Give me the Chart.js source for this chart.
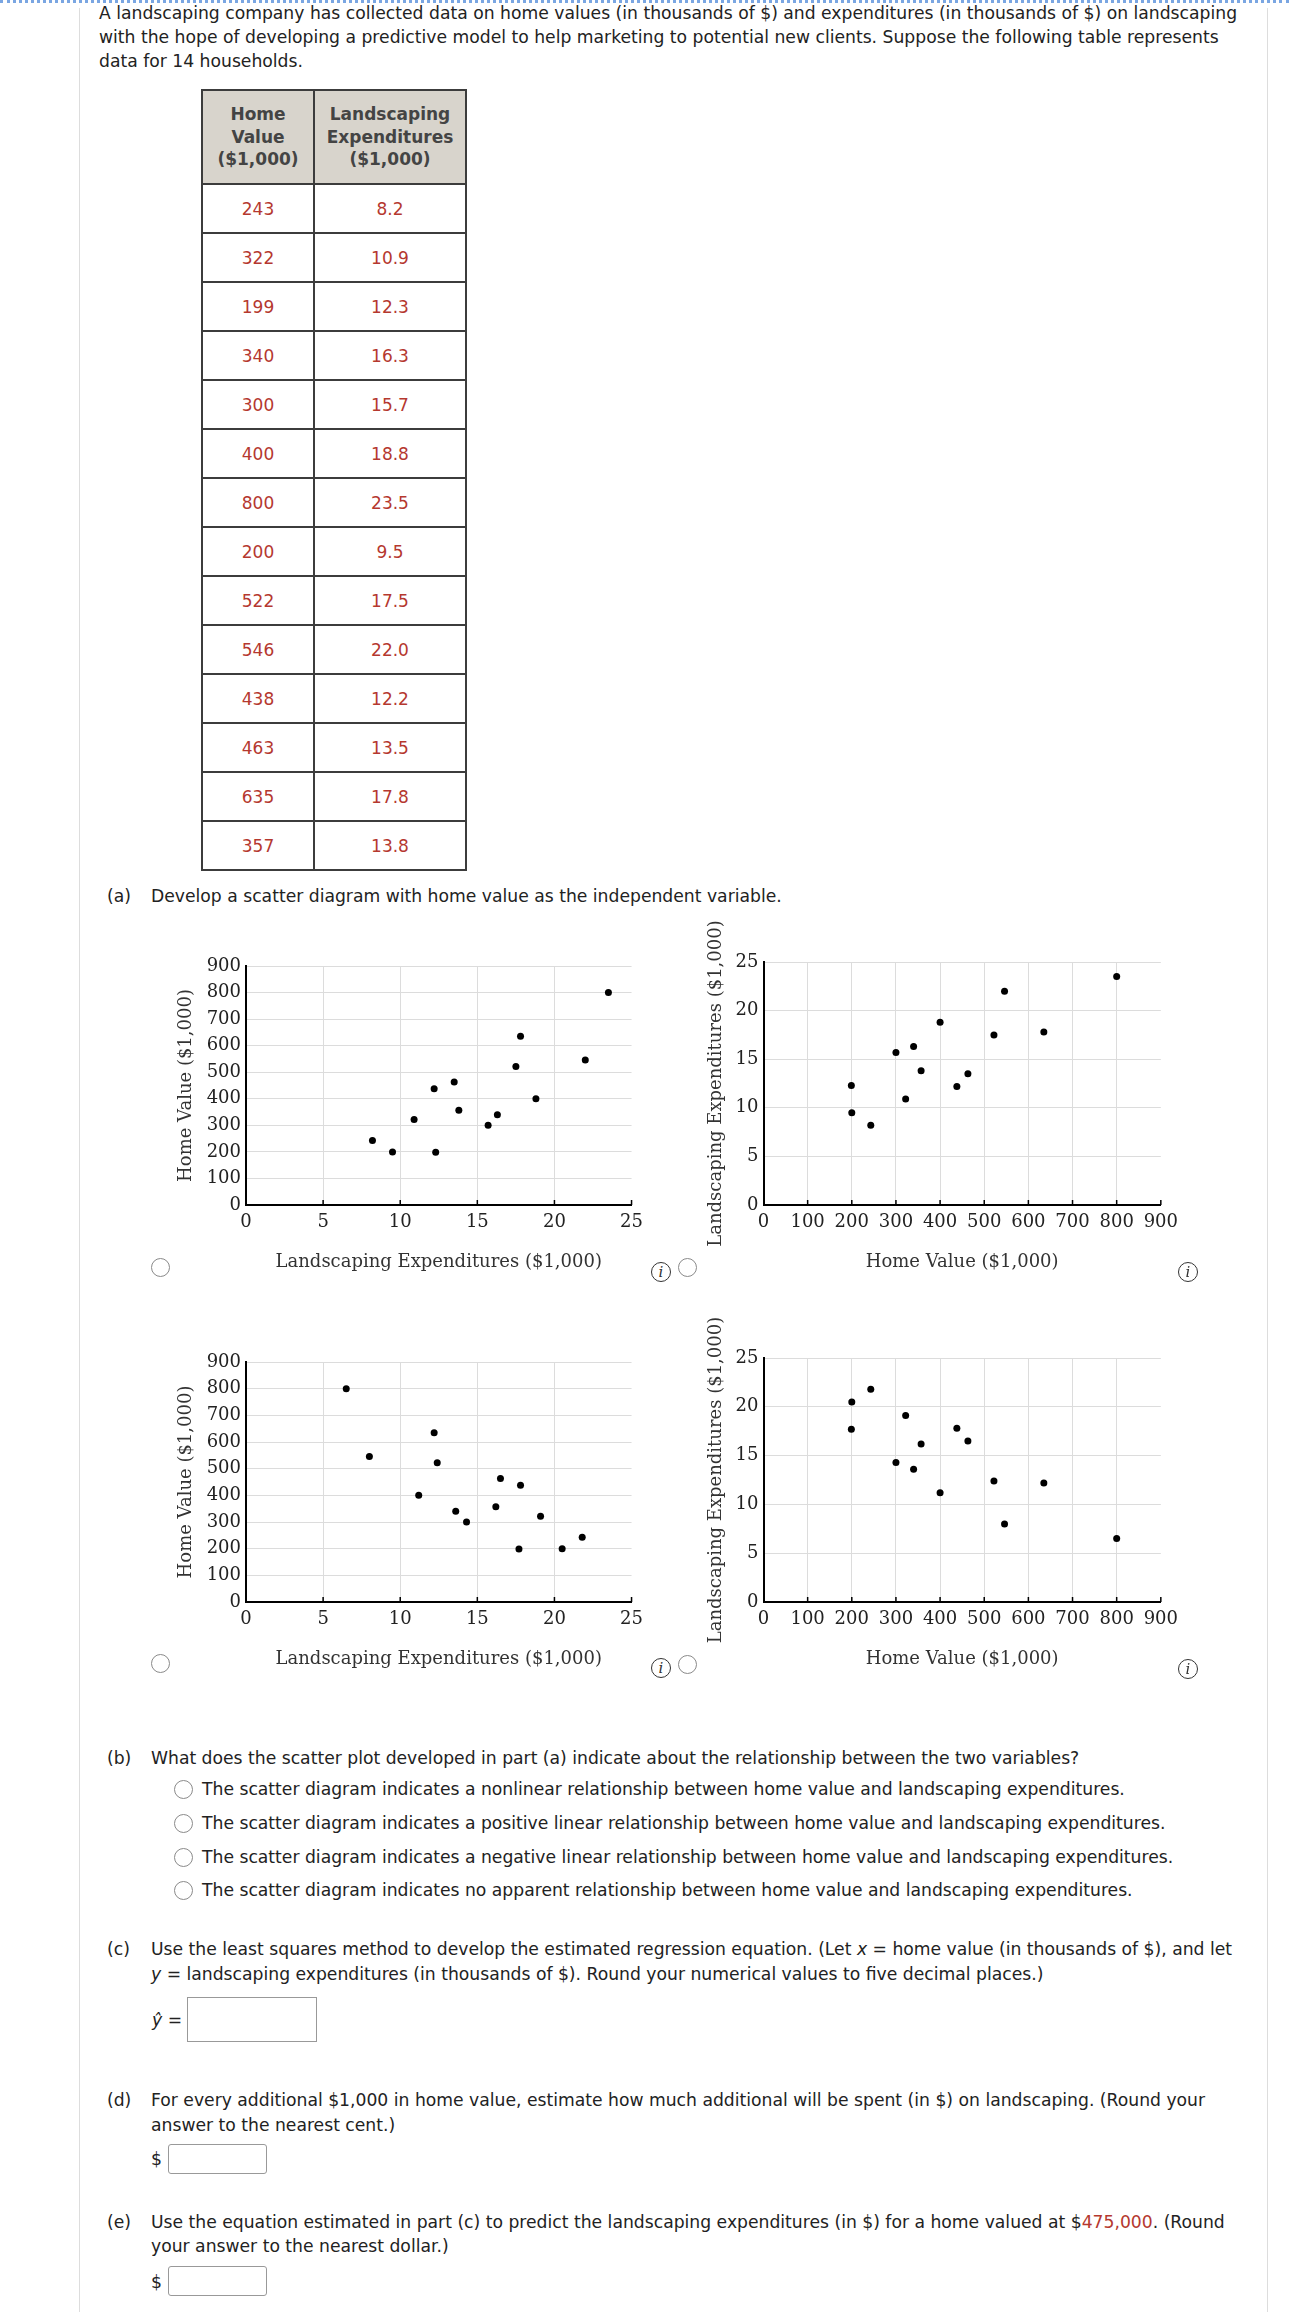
<!DOCTYPE html>
<html>
<head>
<meta charset="utf-8">
<script src="https://cdn.jsdelivr.net/npm/chart.js@4"></script>
<style>
  body { margin: 0; background: #fff; font-family: "DejaVu Sans", Verdana, sans-serif; color: #222; }
  #page { position: relative; width: 1289px; height: 2312px; overflow: hidden; }
  .abs { position: absolute; white-space: nowrap; }
  .txt { font-size: 17.2px; line-height: 24px; }
  .rule { position: absolute; top: 8px; bottom: 0; width: 1px; background: #ddd; }
  .dots { position: absolute; left: 0; top: 0; width: 1289px; border-top: 3px dotted #7aa6e2; }
  table.data { position: absolute; left: 201px; top: 89px; border-collapse: collapse; }
  table.data th, table.data td { border: 2px solid #3c3c3c; text-align: center; padding: 0; font-size: 17px; }
  table.data th { background: #d8d4cc; color: #444; font-weight: bold; line-height: 22.5px; }
  table.data tr.head { height: 94px; }
  table.data tr.row { height: 49px; }
  table.data td { color: #b5382f; }
  .radio { position: absolute; width: 17px; height: 17px; border: 1.5px solid #8a8a8a; border-radius: 50%; background: #fff; }
  .info { position: absolute; width: 18px; height: 18px; border: 1.5px solid #333; border-radius: 50%;
          font: italic 15px "DejaVu Serif", serif; text-align: center; line-height: 18px; color: #333; }
  .box { position: absolute; border: 1.5px solid #999; background: #fff; }
  .chartbox { position: absolute; }
  .red { color: #b5382f; }
</style>
</head>
<body>
<div id="page">
  <div class="dots"></div>
  <div class="rule" style="left:79px"></div>
  <div class="rule" style="left:1267px"></div>

  <div class="abs txt" style="left:99px; top:1px">A landscaping company has collected data on home values (in thousands of $) and expenditures (in thousands of $) on landscaping</div>
  <div class="abs txt" style="left:99px; top:25px">with the hope of developing a predictive model to help marketing to potential new clients. Suppose the following table represents</div>
  <div class="abs txt" style="left:99px; top:49px">data for 14 households.</div>

  <table class="data" id="dataTable">
    <tr class="head"><th style="width:110px">Home<br>Value<br>($1,000)</th><th style="width:150px">Landscaping<br>Expenditures<br>($1,000)</th></tr>
  </table>

  <div class="abs txt" style="left:107px; top:884px">(a)</div>
  <div class="abs txt" style="left:151px; top:884px">Develop a scatter diagram with home value as the independent variable.</div>

  <div class="chartbox" id="box1"><canvas id="chart1"></canvas></div>
  <div class="chartbox" id="box2"><canvas id="chart2"></canvas></div>
  <div class="chartbox" id="box3"><canvas id="chart3"></canvas></div>
  <div class="chartbox" id="box4"><canvas id="chart4"></canvas></div>

  <div class="radio" style="left:151px; top:1258px"></div>
  <div class="info" style="left:651px; top:1262px">i</div>
  <div class="radio" style="left:678px; top:1258px"></div>
  <div class="info" style="left:1178px; top:1262px">i</div>
  <div class="radio" style="left:151px; top:1654px"></div>
  <div class="info" style="left:651px; top:1658px">i</div>
  <div class="radio" style="left:678px; top:1655px"></div>
  <div class="info" style="left:1178px; top:1659px">i</div>

  <div class="abs txt" style="left:107px; top:1746px">(b)</div>
  <div class="abs txt" style="left:151px; top:1746px">What does the scatter plot developed in part (a) indicate about the relationship between the two variables?</div>
  <div class="radio" style="left:174px; top:1780px"></div>
  <div class="abs txt" style="left:202px; top:1777px">The scatter diagram indicates a nonlinear relationship between home value and landscaping expenditures.</div>
  <div class="radio" style="left:174px; top:1814px"></div>
  <div class="abs txt" style="left:202px; top:1811px">The scatter diagram indicates a positive linear relationship between home value and landscaping expenditures.</div>
  <div class="radio" style="left:174px; top:1848px"></div>
  <div class="abs txt" style="left:202px; top:1845px">The scatter diagram indicates a negative linear relationship between home value and landscaping expenditures.</div>
  <div class="radio" style="left:174px; top:1881px"></div>
  <div class="abs txt" style="left:202px; top:1878px">The scatter diagram indicates no apparent relationship between home value and landscaping expenditures.</div>

  <div class="abs txt" style="left:107px; top:1937px">(c)</div>
  <div class="abs txt" style="left:151px; top:1937px">Use the least squares method to develop the estimated regression equation. (Let <i>x</i> = home value (in thousands of $), and let</div>
  <div class="abs txt" style="left:151px; top:1962px"><i>y</i> = landscaping expenditures (in thousands of $). Round your numerical values to five decimal places.)</div>
  <div class="abs txt" style="left:152px; top:2008px"><i>ŷ</i> =</div>
  <div class="box" style="left:187px; top:1997px; width:128px; height:43px"></div>

  <div class="abs txt" style="left:107px; top:2088px">(d)</div>
  <div class="abs txt" style="left:151px; top:2088px">For every additional $1,000 in home value, estimate how much additional will be spent (in $) on landscaping. (Round your</div>
  <div class="abs txt" style="left:151px; top:2113px">answer to the nearest cent.)</div>
  <div class="abs txt" style="left:151px; top:2147px">$</div>
  <div class="box" style="left:168px; top:2144px; width:97px; height:28px; border-radius:3px"></div>

  <div class="abs txt" style="left:107px; top:2210px">(e)</div>
  <div class="abs txt" style="left:151px; top:2210px">Use the equation estimated in part (c) to predict the landscaping expenditures (in $) for a home valued at $<span class="red">475,000</span>. (Round</div>
  <div class="abs txt" style="left:151px; top:2234px">your answer to the nearest dollar.)</div>
  <div class="abs txt" style="left:151px; top:2270px">$</div>
  <div class="box" style="left:168px; top:2266px; width:97px; height:28px; border-radius:3px"></div>
</div>

<script>
// table data (home value, landscaping expenditures, both $1,000)
const homeValues = [243, 322, 199, 340, 300, 400, 800, 200, 522, 546, 438, 463, 635, 357];
const landscapingExp = [8.2, 10.9, 12.3, 16.3, 15.7, 18.8, 23.5, 9.5, 17.5, 22.0, 12.2, 13.5, 17.8, 13.8];
// expenditures shown in the two lower (wrong) answer choices
const wrongExp = [21.8, 19.1, 17.7, 13.6, 14.3, 11.2, 6.5, 20.5, 12.4, 8.0, 17.8, 16.5, 12.2, 16.2];

const homeTicks = [0, 100, 200, 300, 400, 500, 600, 700, 800, 900];
const expTicks = [0, 5, 10, 15, 20, 25];

const homeTitle = 'Home Value ($1,000)';
const expTitle = 'Landscaping Expenditures ($1,000)';

var table = document.getElementById('dataTable');
homeValues.forEach(function (h, i) {
  var tr = document.createElement('tr');
  tr.className = 'row';
  tr.innerHTML = '<td>' + h + '</td><td>' + landscapingExp[i].toFixed(1) + '</td>';
  table.appendChild(tr);
});

var serif = { family: '"DejaVu Serif", serif', size: 18 };

// short tick marks inside the plot on the x axis
var innerTicks = {
  id: 'innerTicks',
  afterDraw: function (chart) {
    var x = chart.scales.x;
    var ctx = chart.ctx;
    ctx.save();
    ctx.strokeStyle = '#000';
    ctx.lineWidth = 1.5;
    ctx.beginPath();
    x.ticks.forEach(function (t, i) {
      if (i === 0) return;
      var px = x.getPixelForTick(i);
      ctx.moveTo(px, x.top);
      ctx.lineTo(px, x.top - 5);
    });
    ctx.stroke();
    ctx.restore();
  }
};

// y title drawn without chart.js squeezing it to the axis height
var yTitle = {
  id: 'yTitle',
  afterDraw: function (chart, args, opts) {
    var y = chart.scales.y;
    var ctx = chart.ctx;
    ctx.save();
    ctx.translate(y.left + 14.5, (y.top + y.bottom) / 2);
    ctx.rotate(-Math.PI / 2);
    ctx.fillStyle = '#333';
    ctx.font = serif.size + 'px ' + serif.family;
    ctx.textAlign = 'center';
    ctx.textBaseline = 'middle';
    ctx.fillText(opts.text, 0, 0);
    ctx.restore();
  }
};

function axis(ticks, title, isX, fitSize) {
  var last = ticks.length - 1;
  return {
    type: 'linear',
    min: ticks[0],
    max: ticks[last],
    ticks: { stepSize: ticks[1] - ticks[0], padding: isX ? 7 : 5, color: '#222', font: serif, maxRotation: 0, autoSkip: false },
    grid: {
      drawTicks: false,
      lineWidth: 1,
      color: function (c) { return (isX && c.index === last) ? 'rgba(0,0,0,0)' : '#dcdcdc'; }
    },
    border: { color: '#000', width: 2 },
    title: { display: isX, text: title, color: '#333', font: serif, padding: { top: 4, bottom: 4 } },
    afterFit: function (s) {
      if (isX) s.height = fitSize; else s.width = fitSize;
    }
  };
}

function makeChart(id, boxId, xs, ys, xTicks, yTicks, xTitle, yTitleText, pos) {
  var box = document.getElementById(boxId);
  box.style.left = pos.left + 'px';
  box.style.top = pos.top + 'px';
  box.style.width = pos.width + 'px';
  box.style.height = pos.height + 'px';
  var pts = xs.map(function (x, i) { return { x: x, y: ys[i] }; });
  return new Chart(document.getElementById(id), {
    type: 'scatter',
    data: { datasets: [{ data: pts, backgroundColor: '#000', borderWidth: 0, pointRadius: 3.5 }] },
    options: {
      responsive: true,
      maintainAspectRatio: false,
      animation: false,
      layout: { padding: { top: pos.padTop, right: pos.padRight, bottom: 3, left: 0 } },
      plugins: { legend: { display: false }, tooltip: { enabled: false }, yTitle: { text: yTitleText } },
      scales: {
        x: axis(xTicks, xTitle, true, 72),
        y: axis(yTicks, yTitleText, false, pos.yWidth)
      }
    },
    plugins: [innerTicks, yTitle]
  });
}

makeChart('chart1', 'box1', landscapingExp, homeValues, expTicks, homeTicks, expTitle, homeTitle,
  { left: 172, top: 900, width: 478, height: 380, padTop: 66, padRight: 17, yWidth: 74 });
makeChart('chart2', 'box2', homeValues, landscapingExp, homeTicks, expTicks, homeTitle, expTitle,
  { left: 702, top: 900, width: 483, height: 380, padTop: 62, padRight: 22, yWidth: 61.5 });
makeChart('chart3', 'box3', wrongExp, homeValues, expTicks, homeTicks, expTitle, homeTitle,
  { left: 172, top: 1296, width: 478, height: 381, padTop: 66, padRight: 17, yWidth: 74 });
makeChart('chart4', 'box4', homeValues, wrongExp, homeTicks, expTicks, homeTitle, expTitle,
  { left: 702, top: 1296, width: 483, height: 381, padTop: 62, padRight: 22, yWidth: 61.5 });
</script>
</body>
</html>
